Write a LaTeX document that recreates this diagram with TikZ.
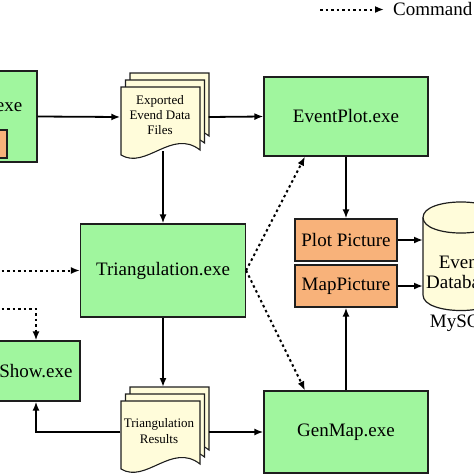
\documentclass[tikz,border=0pt]{standalone}
\usepackage{fontspec}
\setmainfont{Liberation Serif}
\usetikzlibrary{arrows.meta}
\definecolor{gfill}{RGB}{160,246,158}
\definecolor{ofill}{RGB}{248,178,122}
\definecolor{dfill}{RGB}{255,252,218}
\definecolor{edge}{RGB}{30,30,30}
\newcommand\bigf{\fontsize{19}{22}\selectfont}
\newcommand\smallf{\fontsize{13}{15}\selectfont}
\newcommand\docpage[2]{\filldraw[page] (#1,#2) -- (#1+79,#2) -- (#1+79,#2+63) .. controls (#1+51,#2+41) and (#1+25,#2+83) .. (#1,#2+68) -- cycle;}
\begin{document}
\begin{tikzpicture}[x=1pt,y=-1pt,
 box/.style={draw=edge, line width=1.2pt, fill=gfill, inner sep=0pt, font=\bigf},
 obox/.style={draw=edge, line width=1.2pt, fill=ofill, inner sep=0pt, font=\bigf},
 page/.style={draw=edge, line width=1.1pt, fill=dfill},
 lbl/.style={inner sep=0pt, font=\bigf, text=black},
 doctext/.style={inner sep=0pt, font=\smallf, align=center},
 arr/.style={draw=black, line width=1.8pt, -{Latex[length=9pt,width=7pt]}},
 dotarr/.style={draw=black, line width=2pt, dash pattern=on 2.5pt off 3pt, -{Latex[length=9pt,width=7pt]}},
]
\useasboundingbox (0,0) rectangle (474,474);

% legend
\coordinate (lg1) at (320,9.5);
\node[lbl, anchor=west] (cmd) at (393,9.5) {Command};
\draw[dotarr, shorten >=9pt] (lg1) -- (cmd.west);

% left cropped box
\node[box, minimum width=47pt, minimum height=91pt] (lb) at (13.5,116.5) {};
\node[lbl, anchor=east] (lbt) at (22.5,107) {exe};
\node[obox, minimum width=20pt, minimum height=28pt] (lbo) at (-3,144) {};

% exported document stack
\docpage{130}{73}
\docpage{125.5}{80}
\docpage{121}{87}
\node[doctext] (expt) at (160,115) {Exported\\Evend Data\\Files};
\node[inner sep=0pt, minimum width=88pt, minimum height=88pt] (exp) at (164.5,117) {};
\coordinate (expB) at (163,151);

% main boxes
\node[box, minimum width=164pt, minimum height=79pt] (ep) at (346,116.5) {EventPlot.exe};
\node[box, minimum width=165pt, minimum height=93pt] (tri) at (163,270.5) {Triangulation.exe};
\node[box, minimum width=164pt, minimum height=82pt] (gm) at (346,432) {GenMap.exe};
\node[box, minimum width=88pt, minimum height=60pt] (show) at (36,371) {Show.exe};
\node[obox, minimum width=102pt, minimum height=42pt] (pp) at (346,240) {Plot Picture};
\node[obox, minimum width=102pt, minimum height=42pt] (mp) at (346,286) {MapPicture};

% triangulation results stack
\docpage{130}{387}
\docpage{125.5}{394}
\docpage{121}{401}
\node[doctext, font=\fontsize{13}{16}\selectfont] (rest) at (159,431) {Triangulation\\Results};
\node[inner sep=0pt, minimum width=88pt, minimum height=80pt] (res) at (164.5,432) {};
\coordinate (resT) at (163,387);

% database cylinder
\filldraw[page, line width=1.2pt] (423,217.5) -- (423,295) .. controls (423,315.7) and (499,315.7) .. (499,295) -- (499,217.5) .. controls (499,196.8) and (423,196.8) .. (423,217.5) -- cycle;
\draw[draw=edge, line width=1.2pt] (423,217.5) .. controls (423,238.2) and (499,238.2) .. (499,217.5);
\node[lbl, align=center, font=\fontsize{19}{20}\selectfont] (db) at (461,272) {Event\\Database};
\node[lbl] (mysql) at (461,323) {MySQL};
\coordinate (dbl) at (423,0);

% solid connectors
\draw[arr] (lb.east) -- (exp.west);
\draw[arr] (exp.east) -- (ep.west);
\draw[arr] (expB) -- (expB |- tri.north);
\draw[arr] (ep.south) -- (ep.south |- pp.north);
\draw[arr] (pp.east) -- (pp.east -| dbl);
\draw[arr] (mp.east) -- (mp.east -| dbl);
\draw[arr] (gm.north) -- (gm.north |- mp.south);
\draw[arr] (tri.south) -- (tri.south |- resT);
\draw[arr] (res.east) -- (gm.west);
\draw[arr] (res.west) -| (show.south);

% dotted command connectors
\coordinate (x305) at (305,0);
\coordinate (c1) at (-4,309);
\coordinate (c2) at (-4,270.5);
\draw[dotarr] (c2) -- (tri.west);
\draw[dotarr] (c1) -| (show.north);
\draw[dotarr] (tri.east) -- (ep.south -| x305);
\draw[dotarr] (tri.east) -- (gm.north -| x305);
\end{tikzpicture}
\end{document}
